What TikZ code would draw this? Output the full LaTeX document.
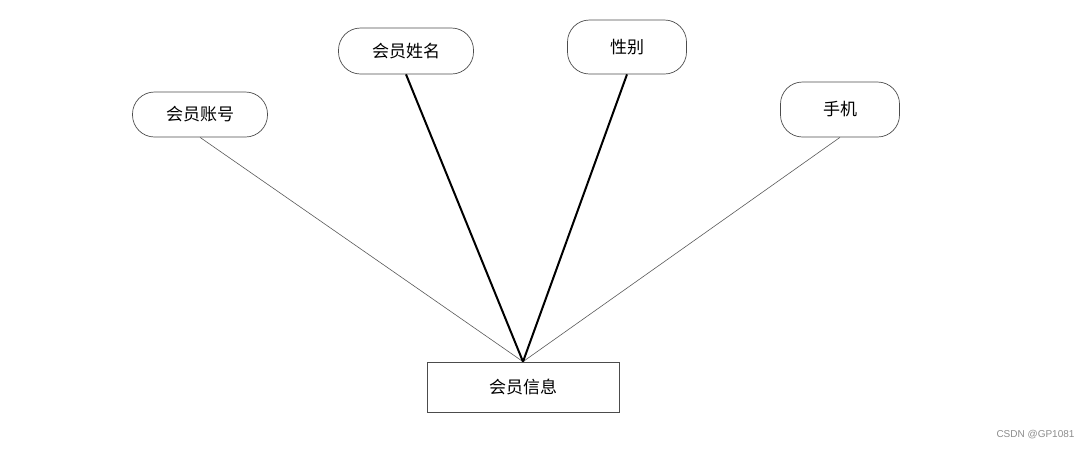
\documentclass[tikz,border=0pt]{standalone}
\usepackage{fontspec}
\setmainfont{Noto Sans CJK SC}
\newfontfamily\wm{Liberation Sans}
\begin{document}
\begin{tikzpicture}[x=1pt,y=-1pt,
 attr/.style={draw=black!70,line width=0.7pt,rounded corners=22pt,font=\fontsize{17}{19}\selectfont,inner sep=0pt},
 ent/.style={draw=black!70,line width=0.7pt,font=\fontsize{17}{19}\selectfont,inner sep=0pt,minimum width=192pt,minimum height=50pt}]
\useasboundingbox (0,0) rectangle (1090,448);
\node[attr,minimum width=135pt,minimum height=45pt] (a) at (200,114.5) {会员账号};
\node[attr,minimum width=135pt,minimum height=46pt] (b) at (406,51) {会员姓名};
\node[attr,minimum width=119pt,minimum height=54pt] (c) at (627,47) {性别};
\node[attr,minimum width=119pt,minimum height=55pt] (d) at (840,109.5) {手机};
\node[ent] (e) at (523,387) {会员信息};
\draw[black!65,line width=0.6pt] (a.south) -- (e.north);
\draw[black!65,line width=0.6pt] (d.south) -- (e.north);
\draw[line width=2pt] (b.south) -- (e.north);
\draw[line width=2pt] (c.south) -- (e.north);
\node[font=\wm\fontsize{10}{11}\selectfont,text=black!45,anchor=east] (w) at (1078,435) {CSDN @GP1081};
\end{tikzpicture}
\end{document}
